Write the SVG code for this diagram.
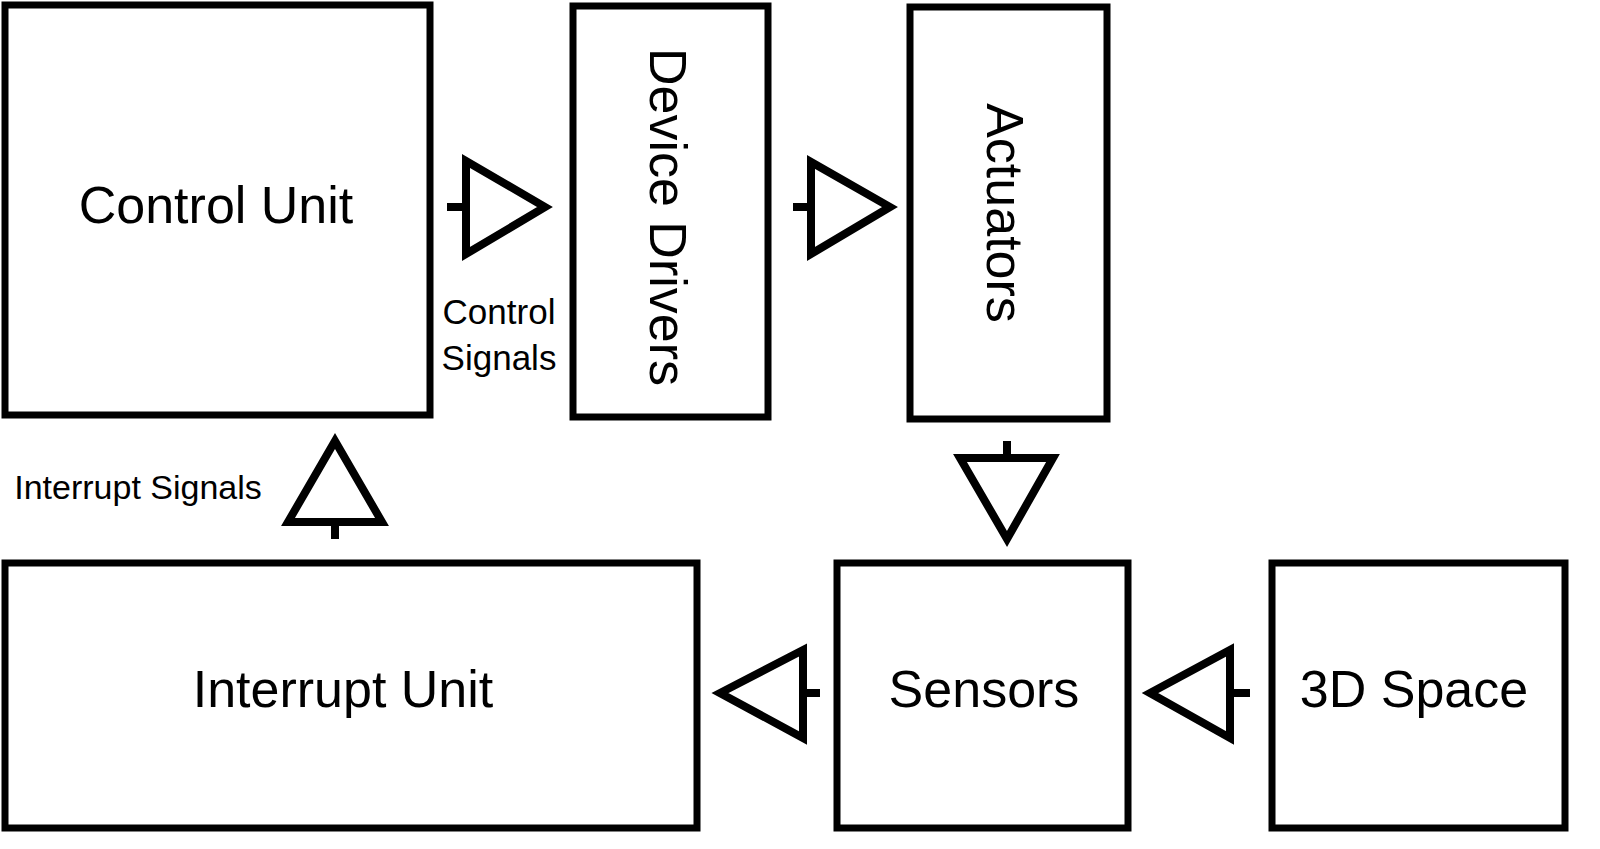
<svg xmlns="http://www.w3.org/2000/svg" width="1600" height="849" viewBox="0 0 1600 849">
<style>
.b{fill:#fff;stroke:#000;stroke-width:7}
.a{fill:#fff;stroke:#000;stroke-width:8}
.s{stroke:#000;stroke-width:8}
text{font-family:"Liberation Sans",Arial,sans-serif;fill:#000;text-anchor:middle;dominant-baseline:central}
.L{font-size:52px}.M{font-size:35px}.N{font-size:34px}
</style>
<rect width="1600" height="849" fill="#fff"/>
<g id="control-unit"><rect class="b" x="5" y="5" width="425" height="410"/><text class="L" x="216" y="205">Control Unit</text></g>
<g id="device-drivers"><rect class="b" x="573" y="6" width="195" height="411"/><text class="L" transform="translate(668,217) rotate(90)">Device Drivers</text></g>
<g id="actuators"><rect class="b" x="910" y="7" width="197" height="412"/><text class="L" transform="translate(1005,213) rotate(90)">Actuators</text></g>
<g id="interrupt-unit"><rect class="b" x="5" y="563" width="692" height="265"/><text class="L" x="343" y="689">Interrupt Unit</text></g>
<g id="sensors"><rect class="b" x="837" y="563" width="291" height="265"/><text class="L" x="984" y="689">Sensors</text></g>
<g id="space"><rect class="b" x="1272" y="563" width="293" height="265"/><text class="L" x="1414" y="689">3D Space</text></g>
<g id="connectors">
<line class="s" x1="447" y1="207" x2="465" y2="207"/><polygon class="a" points="466,161 466,254 545,207"/>
<line class="s" x1="793" y1="207" x2="810" y2="207"/><polygon class="a" points="811,162 811,254 890,207"/>
<line class="s" x1="1007" y1="441" x2="1007" y2="458"/><polygon class="a" points="960,458 1053,458 1007,539"/>
<line class="s" x1="335" y1="522" x2="335" y2="539"/><polygon class="a" points="288,522 382,522 335,441"/>
<line class="s" x1="803" y1="693" x2="820" y2="693"/><polygon class="a" points="803,650 803,738 720,693"/>
<line class="s" x1="1230" y1="693" x2="1250" y2="693"/><polygon class="a" points="1230,650 1230,738 1150,693"/>
<text class="M" x="499" y="311">Control</text>
<text class="M" x="499" y="357">Signals</text>
<text class="N" x="138" y="487">Interrupt Signals</text>
</g>
</svg>
